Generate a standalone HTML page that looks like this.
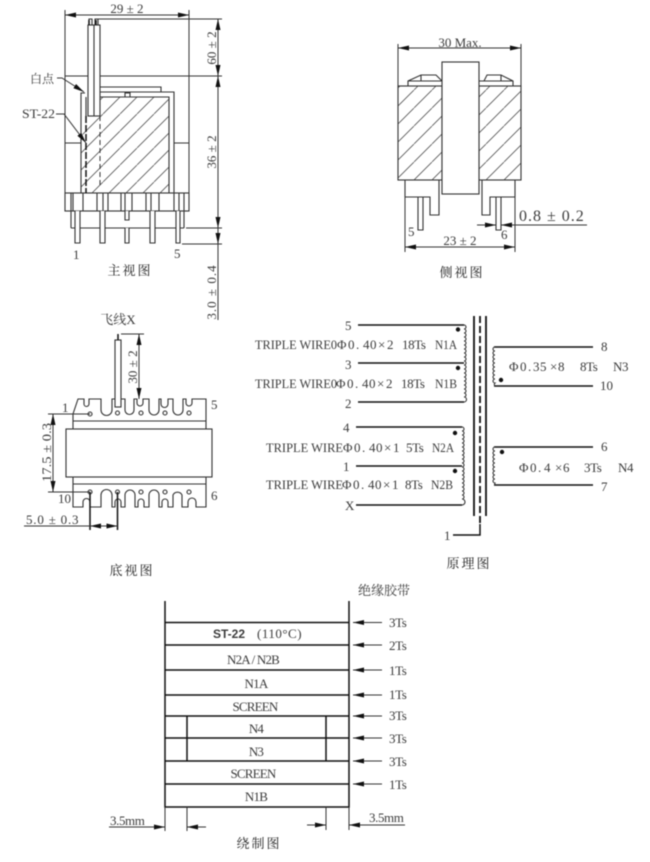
<!DOCTYPE html>
<html><head><meta charset="utf-8"><style>
html,body{margin:0;padding:0;background:#fff;width:650px;height:862px;overflow:hidden}
svg{display:block;filter:blur(0.4px)}
text{font-family:"Liberation Serif","Noto Serif CJK SC",serif;fill:#3c3c3c;font-size:13px}
.c{font-size:13px;letter-spacing:2px;text-anchor:middle;font-family:"Noto Serif CJK SC","Liberation Serif",serif;fill:#222}
.m{font-size:13px;text-anchor:middle}
.t{font-size:13px;letter-spacing:-.8px;text-anchor:middle}
.s{font-size:13px;letter-spacing:-.4px}
.l{fill:none;stroke:#333;stroke-width:1.1}
.w{fill:#fff;stroke:#333;stroke-width:1.1}
.k{fill:none;stroke:#111;stroke-width:1.5}
.b{fill:none;stroke:#111;stroke-width:1.8}
.h{stroke:#333;stroke-width:1;fill:none}
</style></head><body>
<svg width="650" height="862" viewBox="0 0 650 862" xmlns="http://www.w3.org/2000/svg">
<defs>
<marker id="a" viewBox="0 0 11 5" refX="11" refY="2.5" markerWidth="11" markerHeight="5" markerUnits="userSpaceOnUse" orient="auto-start-reverse"><path d="M0,0L11,2.5L0,5z" fill="#111"/></marker>
<pattern id="h1" width="17" height="17" patternUnits="userSpaceOnUse" patternTransform="translate(86,97)"><path d="M-2,19L19,-2" stroke="#555" stroke-width=".8"/></pattern>
<pattern id="h2" width="18" height="18" patternUnits="userSpaceOnUse"><path d="M-2,20L20,-2" stroke="#555" stroke-width=".8"/></pattern>
</defs>
<rect width="650" height="862" fill="#fff"/>

<!-- MAIN VIEW -->
<path class="h" d="M65,10V211M189,10V211M65,76H222M96,19H222M186,228H222M182,244H222M218,19V320"/>
<path class="h" d="M65,15H189" marker-start="url(#a)" marker-end="url(#a)"/>
<path class="h" d="M218,19V76" marker-start="url(#a)" marker-end="url(#a)"/>
<path class="h" d="M218,76V228" marker-start="url(#a)" marker-end="url(#a)"/>
<path class="h" d="M218,228V244" marker-end="url(#a)"/>
<text x="127" y="13" class="m">29 ± 2</text>
<text transform="translate(216,48) rotate(-90)" class="m">60 ± 2</text>
<text transform="translate(216,152) rotate(-90)" class="m">36 ± 2</text>
<text transform="translate(216,292) rotate(-90)" class="m" style="letter-spacing:1px">3.0 ± 0.4</text>
<path d="M100,97H169V193H81V143L86,116H100z" style="fill:url(#h1)"/>
<path class="l" d="M86,97V116M100,97H169V193M81,193V93H85M100,92H174V193M100,87H161V92M125,97V93H130V97M65,143H81M174,143H189"/>
<rect x="65" y="193" width="124" height="18" class="w"/>
<path class="l" d="M71,193V228M73,193V211M83,193V211M97,193V211M103,193V211M108,193V211M121,193V211M125,193V211M132,193V211M146,193V211M151,193V211M159,193V211M174,193V211M179,193V211M184,193V228M71,228H184"/>
<path class="w" d="M75,211V243H80V211M100,211V243H105V211M125,211V220H129V211M125,228V243H129V228M150,211V243H155V211M176,211V243H180V211"/>
<rect x="88" y="25" width="12" height="91" class="w"/>
<path class="l" d="M94,25V116M89,19H92V25H89zM95,19H98V25H95z"/>
<path class="k" d="M89,20V25M96,20V25"/>
<path d="M86,116V193" stroke="#111" stroke-width="1.500" fill="none" stroke-dasharray="7 2"/>
<path d="M100,116V186" stroke="#333" fill="none" stroke-dasharray="5 3"/>
<path class="h" d="M57,78L62,78L84,92" marker-end="url(#a)"/>
<path class="h" d="M56,114H64L86,143" marker-end="url(#a)"/>
<text x="30" y="83" style="font-family:'Noto Serif CJK SC',serif;font-size:12px">白点</text>
<text x="22" y="118" style="font-size:13px" textLength="33" lengthAdjust="spacingAndGlyphs">ST-22</text>
<text x="73" y="259">1</text><text x="174" y="258">5</text>
<text x="130" y="275" class="c">主视图</text>

<!-- SIDE VIEW -->
<path class="h" d="M398,44V86M521,44V86M405,197V252M515,197V252"/>
<path class="h" d="M398,48H521" marker-start="url(#a)" marker-end="url(#a)"/>
<path class="h" d="M405,247H515" marker-start="url(#a)" marker-end="url(#a)"/>
<text x="460" y="47" class="m">30 Max.</text>
<text x="460" y="245" class="m">23 ± 2</text>
<rect x="398" y="86" width="44" height="94" style="fill:url(#h2);stroke:#333;stroke-width:1.100"/>
<rect x="479" y="86" width="42" height="94" style="fill:url(#h2);stroke:#333;stroke-width:1.100"/>
<path class="l" d="M408,86V81L421,75H436L442,81M421,75V81H436M408,81H442M513,86V81L501,75H487L484,81H479M501,75V81H487M479,81H513"/>
<rect x="442" y="62" width="37" height="132" class="w"/>
<path class="l" d="M405,180V197H430V215H439V180M515,180V197H490V215H482V180M418,197V230H423V197M496,197V230H501V197"/>
<path class="h" d="M477,225H496" marker-end="url(#a)"/>
<path class="h" d="M587,225H501" marker-end="url(#a)"/>
<text x="519" y="221" style="font-size:16px;letter-spacing:1px">0.8 ± 0.2</text>
<text x="408" y="236">5</text><text x="501" y="239">6</text>
<text x="462" y="277" class="c">侧视图</text>

<!-- BOTTOM VIEW -->
<rect x="115" y="340" width="6" height="67" class="l"/>
<path class="k" d="M118,334V340"/>
<path class="h" d="M121,334H144"/>
<path class="h" d="M139,334V399" marker-start="url(#a)" marker-end="url(#a)"/>
<text x="118" y="324" class="m" style="font-family:'Liberation Serif','Noto Serif CJK SC',serif">飞线X</text>
<text transform="translate(137,367) rotate(-90)" class="m">30 ± 2</text>
<path class="l" d="M73,429V414L78,399H84V404A2.500,2.500 0 0 0 89,404V399H101V410A5,5 0 0 0 112,410V399H115M121,399H125V410A4.500,4.500 0 0 0 134,410V399H137V403A3,3 0 0 0 143,403V399H149V410A5,5 0 0 0 159,410V399H161V404A3,3 0 0 0 168,404V399H173V410A5,5 0 0 0 183,410V399H186V403A3,3 0 0 0 192,403V399H206V429M73,421H206"/>
<rect x="66" y="429" width="146" height="48" class="w"/>
<path class="l" d="M73,477V507H83V502A3,3 0 0 1 90,502V507H101V495A5,5 0 0 1 112,495V507H115V502A3,3 0 0 1 121,502V507H125V495A5,5 0 0 1 135,495V507H138V502A3,3 0 0 1 144,502V507H149V495A5,5 0 0 1 159,495V507H162V502A3,3 0 0 1 168,502V507H173V495A5,5 0 0 1 182,495V507H188V502A3,3 0 0 1 196,502V507H206V477M73,484H206"/>
<g class="l"><circle cx="90" cy="414" r="2"/><circle cx="117.500" cy="413" r="2"/><circle cx="141" cy="413" r="2"/><circle cx="165" cy="413" r="2"/><circle cx="189" cy="413" r="2"/><circle cx="90" cy="492" r="2"/><circle cx="117.500" cy="492" r="2"/><circle cx="141" cy="492" r="2"/><circle cx="165" cy="492" r="2"/><circle cx="189" cy="492" r="2"/></g>
<path class="h" d="M48,414H90M48,492H90"/>
<path class="h" d="M53,414V492" marker-start="url(#a)" marker-end="url(#a)"/>
<text transform="translate(51,482) rotate(-90)" textLength="59" lengthAdjust="spacingAndGlyphs">17.5 ± 0.3</text>
<path class="k" d="M90,492V530M117.500,492V530"/>
<path class="h" d="M24,526H90" />
<path class="h" d="M90,526H117.500" marker-start="url(#a)" marker-end="url(#a)"/>
<text x="26" y="524" style="font-size:13px;letter-spacing:.8px">5.0 ± 0.3</text>
<text x="62" y="412">1</text><text x="211" y="409">5</text><text x="58" y="503">10</text><text x="211" y="500">6</text>
<text x="132" y="575" class="c">底视图</text>

<!-- SCHEMATIC -->
<path class="b" d="M474,316V516M486,316V516"/>
<path d="M480,316V526" fill="none" stroke="#111" stroke-width="1.800" stroke-dasharray="7 3"/>
<path class="k" d="M480,524V535H453"/>
<path class="k" d="M358,325H464M358,363H464M358,402H464M356,427H462M356,466H462M356,505H462M494,347H593M494,386H593M494,447H593M494,485H593"/>
<path class="l" d="M464,325a2,2 0 0 1 0,4a2,2 0 0 1 0,4a2,2 0 0 1 0,4a2,2 0 0 1 0,4a2,2 0 0 1 0,4a2,2 0 0 1 0,4a2,2 0 0 1 0,4a2,2 0 0 1 0,4a2,2 0 0 1 0,4a2,2 0 0 1 0,4a2,2 0 0 1 0,4a2,2 0 0 1 0,4a2,2 0 0 1 0,4a2,2 0 0 1 0,4a2,2 0 0 1 0,4a2,2 0 0 1 0,4a2,2 0 0 1 0,4a2,2 0 0 1 0,4a2,2 0 0 1 0,5"/>
<path class="l" d="M462,427a2,2 0 0 1 0,4a2,2 0 0 1 0,4a2,2 0 0 1 0,4a2,2 0 0 1 0,4a2,2 0 0 1 0,4a2,2 0 0 1 0,4a2,2 0 0 1 0,4a2,2 0 0 1 0,4a2,2 0 0 1 0,4a2,2 0 0 1 0,4a2,2 0 0 1 0,4a2,2 0 0 1 0,4a2,2 0 0 1 0,4a2,2 0 0 1 0,4a2,2 0 0 1 0,4a2,2 0 0 1 0,4a2,2 0 0 1 0,4a2,2 0 0 1 0,4a2,2 0 0 1 0,6"/>
<path class="l" d="M495,347a2,2 0 0 0 0,4a2,2 0 0 0 0,4a2,2 0 0 0 0,4a2,2 0 0 0 0,4a2,2 0 0 0 0,4a2,2 0 0 0 0,4a2,2 0 0 0 0,4a2,2 0 0 0 0,4a2,2 0 0 0 0,4a2,2 0 0 0 0,3"/>
<path class="l" d="M495,447a2,2 0 0 0 0,4a2,2 0 0 0 0,4a2,2 0 0 0 0,4a2,2 0 0 0 0,4a2,2 0 0 0 0,4a2,2 0 0 0 0,4a2,2 0 0 0 0,4a2,2 0 0 0 0,4a2,2 0 0 0 0,4a2,2 0 0 0 0,2"/>
<g fill="#111"><circle cx="458" cy="329.500" r="2.200"/><circle cx="458" cy="368" r="2.200"/><circle cx="455" cy="433" r="2.200"/><circle cx="455" cy="471" r="2.200"/><circle cx="501" cy="380" r="2.200"/><circle cx="502" cy="452" r="2.200"/></g>
<g>
<text x="345" y="330">5</text><text x="345" y="369">3</text><text x="345" y="408">2</text>
<text x="343" y="432">4</text><text x="343" y="471">1</text><text x="345" y="510">X</text>
<text x="601" y="351">8</text><text x="600" y="390">10</text><text x="601" y="451">6</text><text x="601" y="491">7</text>
<text x="444" y="540">1</text>
<text x="255" y="349" textLength="82" lengthAdjust="spacingAndGlyphs">TRIPLE WIRE0</text><text x="337 348 356 363 370 378 387" y="349">Φ0.40×2</text><text x="402" y="349" class="s">18Ts</text><text x="435" y="349" textLength="22" lengthAdjust="spacingAndGlyphs">N1A</text>
<text x="255" y="388" textLength="82" lengthAdjust="spacingAndGlyphs">TRIPLE WIRE0</text><text x="336 347 355 362 369 377 386" y="388">Φ0.40×2</text><text x="401" y="388" class="s">18Ts</text><text x="435" y="388" textLength="22" lengthAdjust="spacingAndGlyphs">N1B</text>
<text x="266" y="452" textLength="77" lengthAdjust="spacingAndGlyphs">TRIPLE WIRE</text><text x="343 354 362 369 376 384 393" y="452">Φ0.40×1</text><text x="406" y="452" class="s">5Ts</text><text x="432" y="452" textLength="22" lengthAdjust="spacingAndGlyphs">N2A</text>
<text x="266" y="489" textLength="77" lengthAdjust="spacingAndGlyphs">TRIPLE WIRE</text><text x="342 353 361 368 375 383 392" y="489">Φ0.40×1</text><text x="405" y="489" class="s">8Ts</text><text x="431" y="489" textLength="22" lengthAdjust="spacingAndGlyphs">N2B</text>
<text x="509 520 528 533 540 550 558" y="371">Φ0.35×8</text><text x="580" y="371" class="s">8Ts</text><text x="613" y="371" class="s">N3</text>
<text x="519 530 538 544 555 563" y="472">Φ0.4×6</text><text x="584" y="472" class="s">3Ts</text><text x="618" y="472" class="s">N4</text>
</g>
<text x="469" y="568" class="c">原理图</text>

<!-- WINDING -->
<text x="358" y="595" style="font-family:'Noto Serif CJK SC',serif;font-size:13px">绝缘胶带</text>
<path class="k" d="M165,601V807H349V601"/>
<path class="k" d="M165,622.500H349M165,645H349M165,670H349M165,695H349M165,716H349M165,738H349M165,761H349M165,784H349M187,716V761M326,716V761"/>
<g class="h">
<path d="M382,622.500H353" marker-end="url(#a)"/><path d="M382,645H353" marker-end="url(#a)"/><path d="M382,670H353" marker-end="url(#a)"/><path d="M382,695H353" marker-end="url(#a)"/><path d="M382,716H353" marker-end="url(#a)"/><path d="M382,738H353" marker-end="url(#a)"/><path d="M382,761H353" marker-end="url(#a)"/><path d="M382,784H353" marker-end="url(#a)"/>
</g>
<text x="389" y="627" class="s">3Ts</text><text x="389" y="650" class="s">2Ts</text><text x="389" y="675" class="s">1Ts</text><text x="389" y="699" class="s">1Ts</text><text x="389" y="720" class="s">3Ts</text><text x="389" y="743" class="s">3Ts</text><text x="389" y="766" class="s">3Ts</text><text x="389" y="789" class="s">1Ts</text>
<text x="213" y="638" style="font-family:'Liberation Sans',sans-serif;font-size:12px;font-weight:bold">ST-22</text><text x="257" y="638" style="font-size:13px;letter-spacing:.5px">(110°C)</text>
<text x="253" y="664" class="t">N2A / N2B</text>
<text x="256" y="688" class="t">N1A</text>
<text x="255" y="711" class="t">SCREEN</text>
<text x="256" y="733" class="t">N4</text>
<text x="256" y="756" class="t">N3</text>
<text x="253" y="778" class="t">SCREEN</text>
<text x="256" y="801" class="t">N1B</text>
<path class="h" d="M165,807V831M187,807V831M326,807V830M349,807V830"/>
<path class="h" d="M109,827H165" marker-end="url(#a)"/><path class="h" d="M206,827H187" marker-end="url(#a)"/>
<path class="h" d="M307,825H326" marker-end="url(#a)"/><path class="h" d="M405,825H349" marker-end="url(#a)"/>
<text x="110" y="825" class="s">3.5mm</text>
<text x="369" y="822" class="s">3.5mm</text>
<text x="259" y="848" class="c">绕制图</text>
</svg>
</body></html>
